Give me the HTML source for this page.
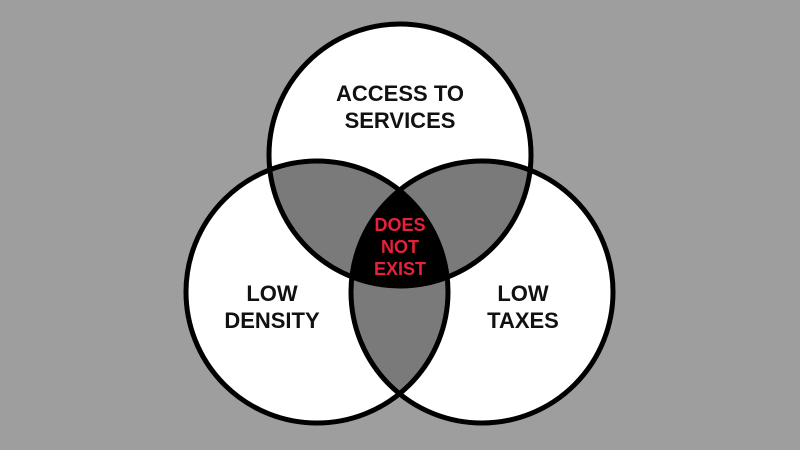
<!DOCTYPE html>
<html><head><style>html,body{margin:0;padding:0;background:#9e9e9e;}svg{display:block}</style></head>
<body>
<svg width="800" height="450" viewBox="0 0 800 450" xmlns="http://www.w3.org/2000/svg">
<defs>
<clipPath id="cT"><circle cx="400" cy="155" r="131"/></clipPath>
<clipPath id="cL"><circle cx="317" cy="292" r="131"/></clipPath>
<clipPath id="cR"><circle cx="482" cy="292" r="131"/></clipPath>
</defs>
<rect width="800" height="450" fill="#9e9e9e"/>
<circle cx="400" cy="155" r="131" fill="#fff"/>
<circle cx="317" cy="292" r="131" fill="#fff"/>
<circle cx="482" cy="292" r="131" fill="#fff"/>
<g clip-path="url(#cT)"><circle cx="317" cy="292" r="131" fill="#7a7a7a"/><circle cx="482" cy="292" r="131" fill="#7a7a7a"/></g>
<g clip-path="url(#cL)"><circle cx="482" cy="292" r="131" fill="#7a7a7a"/></g>
<g clip-path="url(#cT)"><g clip-path="url(#cL)"><circle cx="482" cy="292" r="131" fill="#000"/></g></g>
<g fill="none" stroke="#000" stroke-width="5">
<circle cx="400" cy="155" r="131"/>
<circle cx="317" cy="292" r="131"/>
<circle cx="482" cy="292" r="131"/>
</g>
<g font-family="Liberation Sans, sans-serif" font-weight="bold" font-size="22" text-anchor="middle" fill="#111">
<text x="400" y="101">ACCESS TO</text>
<text x="400" y="128">SERVICES</text>
<text x="272" y="301">LOW</text>
<text x="272" y="328">DENSITY</text>
<text x="523" y="301">LOW</text>
<text x="523" y="328">TAXES</text>
</g>
<g font-family="Liberation Sans, sans-serif" font-weight="bold" font-size="18" text-anchor="middle" fill="#e8203a">
<text x="400" y="231">DOES</text>
<text x="400" y="253">NOT</text>
<text x="400" y="275">EXIST</text>
</g>
</svg>
</body></html>
